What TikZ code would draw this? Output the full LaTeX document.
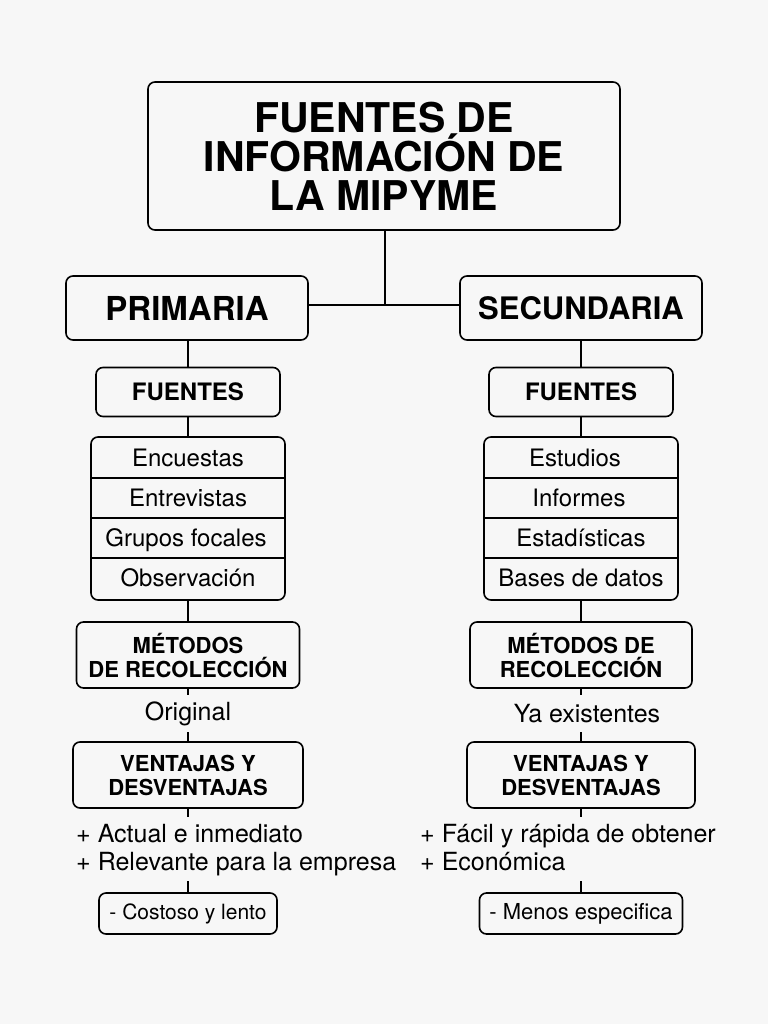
\documentclass[tikz,border=0pt]{standalone}
\usepackage{fontspec}
\setmainfont{TeX Gyre Heros}
\begin{document}
\begin{tikzpicture}[x=1pt,y=-1pt,
  box/.style={draw,line width=1.6pt,rounded corners=7pt,align=center,inner sep=0pt},
  ln/.style={line width=1.6pt},
  hd/.style={font=\bfseries\fontsize{24}{26}\selectfont},
  bh/.style={font=\bfseries\fontsize{22}{24}\selectfont},
  tx/.style={font=\fontsize{25}{28}\selectfont},
  lst/.style={inner sep=0pt,anchor=base,font=\fontsize{24}{28}\selectfont}]
\fill[white!97!black] (0,0) rectangle (768,1024);
\useasboundingbox (0,0) rectangle (768,1024);
\node[box,minimum width=472,minimum height=148,font=\bfseries\fontsize{41}{39}\selectfont] (title) at (384,156) {FUENTES DE\\INFORMACIÓN DE\\LA MIPYME};
\node[box,minimum width=242,minimum height=64,font=\bfseries\fontsize{33}{36}\selectfont] (pri) at (187,308) {PRIMARIA};
\node[box,minimum width=242,minimum height=64,font=\bfseries\fontsize{31}{36}\selectfont] (sec) at (581,308) {SECUNDARIA};
\coordinate (j) at (385,305);
\draw[ln] (title.south -| j) -- (j);
\draw[ln] (pri.east |- j) -- (sec.west |- j);

\foreach \s/\cx/\mA/\mB/\mw/\vw/\ori/\pA/\pB/\neg/\nw/\nx/\px/\nf in
 {L/188/MÉTODOS/DE RECOLECCIÓN/223/230/Original/Actual e inmediato/Relevante para la empresa/Costoso y lento/178/188/76/21,
  R/581/MÉTODOS DE/RECOLECCIÓN/222/228/Ya existentes/Fácil y rápida de obtener/Económica/Menos especifica/203/587/420/22}{
 \node[box,minimum width=184,minimum height=49,hd] (f\s) at (\cx,392) {FUENTES};
 \node[box,minimum width=194,minimum height=163] (l\s) at (\cx,518.5) {};
 \node[box,minimum width=\mw,minimum height=66,bh] (m\s) at (\cx,655) {\mA\\\mB};
 \node[tx,inner sep=0pt] (o\s) at (\nx,714) {\ori};
 \node[box,minimum width=\vw,minimum height=66,bh] (v\s) at (\cx,775) {VENTAJAS Y\\DESVENTAJAS};
 \node[tx,anchor=base west,inner sep=0pt] (pa\s) at (\px,842) {+ \pA};
 \node[tx,anchor=base west,inner sep=0pt] (pb\s) at (\px,870) {+ \pB};
 \node[box,minimum width=\nw,minimum height=41,font=\fontsize{\nf}{24}\selectfont] (n\s) at (\cx,913.5) {- \neg};
 \draw[ln] (\cx,340) -- (f\s.north);
 \draw[ln] (f\s.south) -- (l\s.north);
 \draw[ln] (l\s.south) -- (m\s.north);
 \draw[ln] (m\s.south) -- ++(0,6);
 \draw[ln] (v\s.north) -- ++(0,-9);
 \draw[ln] (v\s.south) -- ++(0,8);
 \draw[ln] (n\s.north) -- ++(0,-11);
 \foreach \y in {478,518,558} \draw[ln] (l\s.west |- 0,\y) -- (l\s.east |- 0,\y);
}
\node[lst] at (188,466) {Encuestas};
\node[lst] at (188,506) {Entrevistas};
\node[lst] at (186,546) {Grupos focales};
\node[lst] at (188,586) {Observación};
\node[lst] at (575,466) {Estudios};
\node[lst] at (579,506) {Informes};
\node[lst] at (581,546) {Estadísticas};
\node[lst] at (581,586) {Bases de datos};
\end{tikzpicture}
\end{document}
